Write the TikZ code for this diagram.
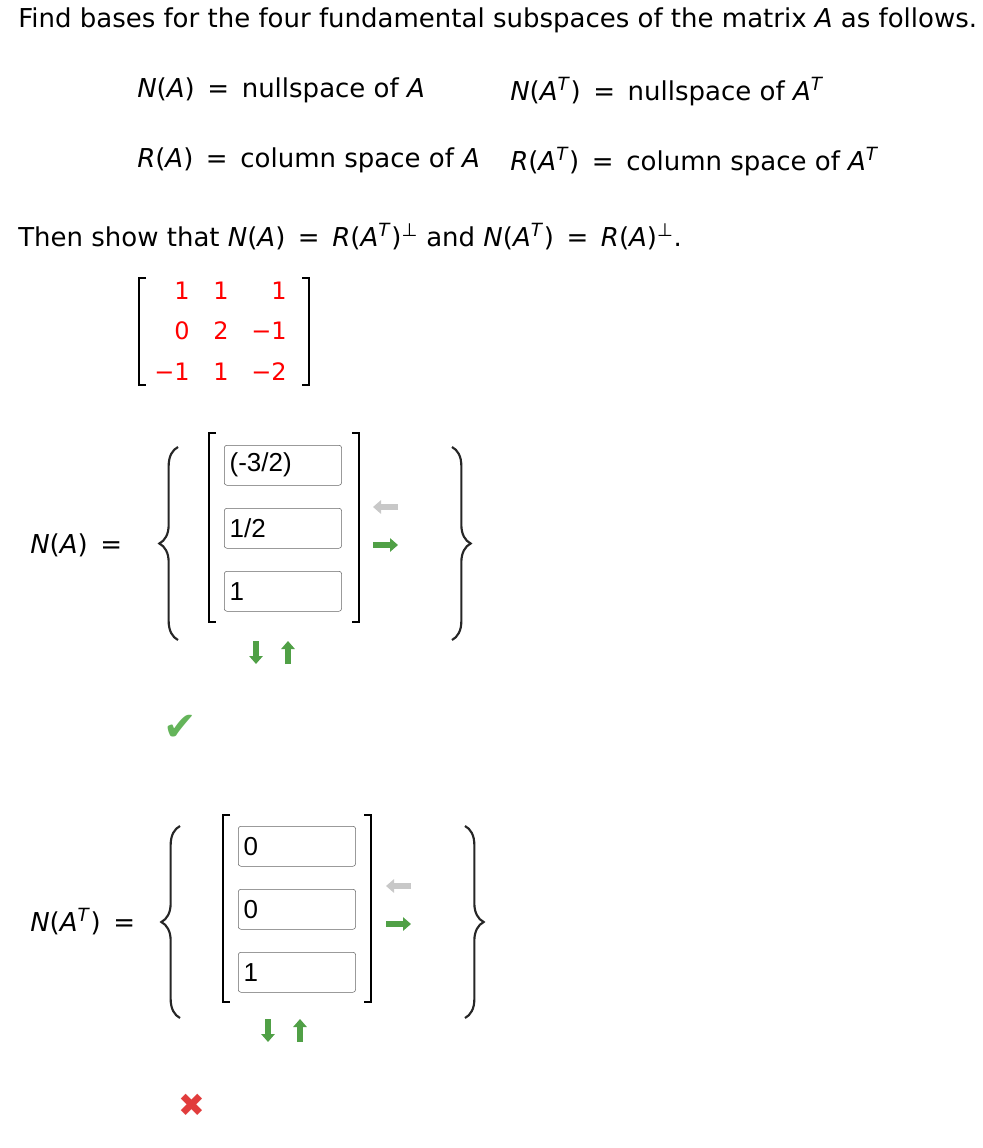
\documentclass[tikz,border=0pt]{standalone}
\usepackage{fontspec}
\setmainfont{DejaVu Sans}
\newfontfamily\arialf{Liberation Sans}
\usetikzlibrary{decorations.pathreplacing,arrows.meta}
\definecolor{okgreen}{RGB}{100,180,90}
\definecolor{arrgreen}{RGB}{80,160,70}
\definecolor{arrgray}{RGB}{200,200,200}
\definecolor{xred}{RGB}{225,60,60}
\newcommand{\supT}{\textsuperscript{\textit{T}}}
\newcommand{\supP}{\textsuperscript{⊥}}
\begin{document}
\begin{tikzpicture}[x=0.75pt,y=-0.75pt,
  txt/.style={font=\fontsize{19.5}{22}\selectfont,inner sep=0pt},
  ent/.style={font=\fontsize{18}{21}\selectfont,text=red,inner sep=0pt,anchor=east},
  inbox/.style={draw=gray!80!black,rounded corners=2pt,minimum width=88pt,minimum height=30pt,anchor=north west,inner sep=3pt,text width=80pt,align=left,font=\arialf\fontsize{19.5}{22}\selectfont},
  brk/.style={line width=1.3pt},
  brc/.style={decorate,decoration={brace,amplitude=14pt},line width=1.6pt,black!85},
  hbig/.style={-{Triangle[length=6pt,width=10pt]},line width=4pt},
]
\useasboundingbox (0,0) rectangle (982,1148);
\node[txt,anchor=base west] (t1) at (18,28) {Find bases for the four fundamental subspaces of the matrix \textit{A} as follows.};
\node[txt,anchor=west] (d1) at (137,90) {\textit{N}(\textit{A}) \,=\, nullspace of \textit{A}};
\node[txt,anchor=west] (d2) at (510,92) {\textit{N}(\textit{A}\supT) \,=\, nullspace of \textit{A}\supT};
\node[txt,anchor=west] (d3) at (137,160) {\textit{R}(\textit{A}) \,=\, column space of \textit{A}};
\node[txt,anchor=west] (d4) at (510,162) {\textit{R}(\textit{A}\supT) \,=\, column space of \textit{A}\supT};
\node[txt,anchor=west] (t2) at (18,237) {Then show that \textit{N}(\textit{A}) \,=\, \textit{R}(\textit{A}\supT)\supP{} and \textit{N}(\textit{A}\supT) \,=\, \textit{R}(\textit{A})\supP.};
% matrix A
\draw[brk] (146,278) -- (139,278) -- (139,385) -- (146,385);
\draw[brk] (302,278) -- (309,278) -- (309,385) -- (302,385);
\node[ent] (a11) at (190,291) {1};
\node[ent] (a12) at (229,291) {1};
\node[ent] (a13) at (287,291) {1};
\node[ent] (a21) at (190,331) {0};
\node[ent] (a22) at (229,331) {2};
\node[ent] (a23) at (287,331) {−1};
\node[ent] (a31) at (190,372) {−1};
\node[ent] (a32) at (229,372) {1};
\node[ent] (a33) at (287,372) {−2};
% N(A)
\node[txt,anchor=west] (na) at (30,545) {\textit{N}(\textit{A}) \,=};
\coordinate (lb1a) at (178,640); \coordinate (lb1b) at (178,447);
\draw[brc] (lb1a) -- (lb1b);
\coordinate (rb1a) at (452,447); \coordinate (rb1b) at (452,640);
\draw[brc] (rb1a) -- (rb1b);
\draw[brk] (216,433) -- (209,433) -- (209,622) -- (216,622);
\draw[brk] (352,433) -- (359,433) -- (359,622) -- (352,622);
\node[inbox] (b1) at (224,445) {(-3/2)};
\node[inbox] (b2) at (224,508) {1/2};
\node[inbox] (b3) at (224,571) {1};
\coordinate (g1s) at (398,507); \coordinate (g1e) at (373,507);
\draw[hbig,arrgray] (g1s) -- (g1e);
\coordinate (g2s) at (373,545); \coordinate (g2e) at (398,545);
\draw[hbig,arrgreen] (g2s) -- (g2e);
\coordinate (d1s) at (256,641); \coordinate (d1e) at (256,664);
\draw[hbig,arrgreen] (d1s) -- (d1e);
\coordinate (u1s) at (288,664); \coordinate (u1e) at (288,641);
\draw[hbig,arrgreen] (u1s) -- (u1e);
\node[text=okgreen,font=\fontsize{30}{30}\selectfont\bfseries,inner sep=0pt] (ok) at (180,728) {✔};
% N(A^T)
\node[txt,anchor=west] (nat) at (30,922) {\textit{N}(\textit{A}\supT) \,=};
\coordinate (lb2a) at (180,1018); \coordinate (lb2b) at (180,826);
\draw[brc] (lb2a) -- (lb2b);
\coordinate (rb2a) at (465,826); \coordinate (rb2b) at (465,1018);
\draw[brc] (rb2a) -- (rb2b);
\draw[brk] (230,815) -- (223,815) -- (223,1002) -- (230,1002);
\draw[brk] (364,815) -- (371,815) -- (371,1002) -- (364,1002);
\node[inbox] (c1) at (238,826) {0};
\node[inbox] (c2) at (238,889) {0};
\node[inbox] (c3) at (238,952) {1};
\coordinate (g3s) at (411,886); \coordinate (g3e) at (386,886);
\draw[hbig,arrgray] (g3s) -- (g3e);
\coordinate (g4s) at (386,924); \coordinate (g4e) at (411,924);
\draw[hbig,arrgreen] (g4s) -- (g4e);
\coordinate (d2s) at (268,1019); \coordinate (d2e) at (268,1042);
\draw[hbig,arrgreen] (d2s) -- (d2e);
\coordinate (u2s) at (300,1042); \coordinate (u2e) at (300,1019);
\draw[hbig,arrgreen] (u2s) -- (u2e);
\node[text=xred,font=\fontsize{24}{24}\selectfont\bfseries,inner sep=0pt] (bad) at (192,1105) {✖};
\end{tikzpicture}
\end{document}
